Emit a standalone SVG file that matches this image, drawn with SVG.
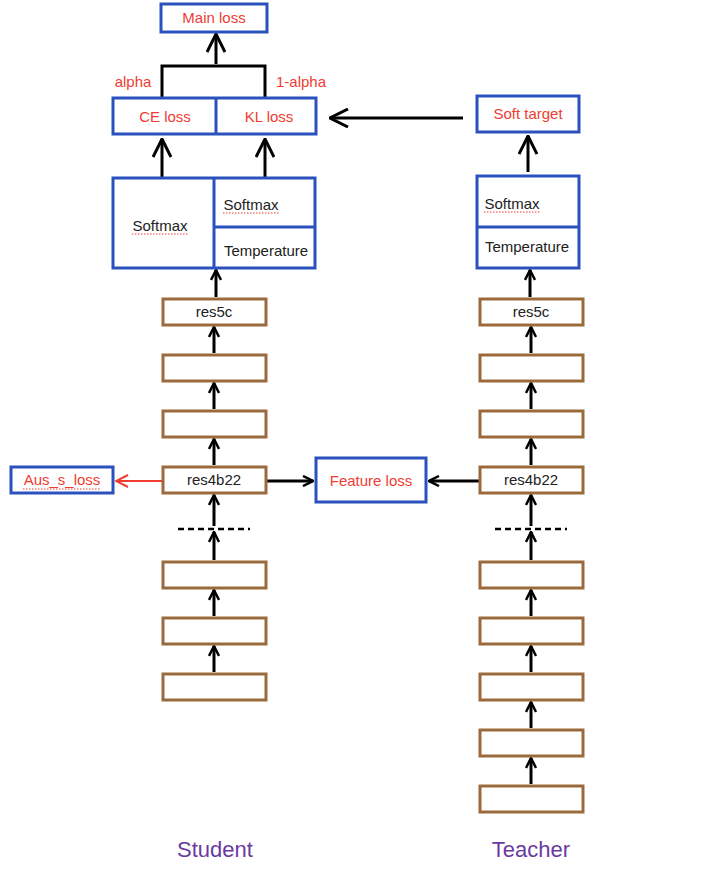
<svg xmlns="http://www.w3.org/2000/svg" width="709" height="875" viewBox="0 0 709 875">
<style>
.b{fill:#fff;stroke:#2a52be;stroke-width:3}
.r{fill:#fff;stroke:#9b6a3c;stroke-width:3}
.l{stroke:#000;stroke-width:3;fill:none}
.t{font-family:"Liberation Sans",Arial,sans-serif;font-size:15px;text-anchor:middle;fill:#222}
.red{fill:#f03c32}
.u{stroke:#f03c32;stroke-width:1;stroke-dasharray:1.5 1.5}
.lab{font-family:"Liberation Sans",Arial,sans-serif;font-size:22px;text-anchor:middle;fill:#6a3aa0}
</style>
<defs>
<marker id="a" viewBox="0 0 12 12" refX="11" refY="6" markerWidth="12" markerHeight="12" markerUnits="userSpaceOnUse" orient="auto"><path d="M1,1 L11,6 L1,11" fill="none" stroke="#000" stroke-width="2.5"/></marker>
<marker id="A" viewBox="0 0 20 20" refX="19" refY="10" markerWidth="20" markerHeight="20" markerUnits="userSpaceOnUse" orient="auto"><path d="M1,1 L19,10 L1,19" fill="none" stroke="#000" stroke-width="3"/></marker>
<marker id="ar" viewBox="0 0 14 14" refX="13" refY="7" markerWidth="14" markerHeight="14" markerUnits="userSpaceOnUse" orient="auto"><path d="M1,1 L13,7 L1,13" fill="none" stroke="#f03c32" stroke-width="2"/></marker>
</defs>
<g id="connectors">
<path class="l" d="M216,64 V34" marker-end="url(#A)"/>
<path class="l" d="M162,98 V66 H265 V98"/>
<path class="l" d="M162,177 V139" marker-end="url(#A)"/>
<path class="l" d="M265,177 V139" marker-end="url(#A)"/>
<path class="l" d="M463,118 H330" marker-end="url(#A)"/>
<path class="l" d="M528,172 V136" marker-end="url(#A)"/>
<path class="l" d="M216,297 V270" marker-end="url(#a)"/>
<path class="l" d="M530,297 V270" marker-end="url(#a)"/>
<g class="l">
<path d="M214,353 V327" marker-end="url(#a)"/><path d="M214,409 V383" marker-end="url(#a)"/><path d="M214,465 V439" marker-end="url(#a)"/>
<path d="M214,526 V495" marker-end="url(#a)"/><path d="M214,560 V532" marker-end="url(#a)"/><path d="M214,616 V590" marker-end="url(#a)"/><path d="M214,672 V646" marker-end="url(#a)"/>
<path d="M531,353 V327" marker-end="url(#a)"/><path d="M531,409 V383" marker-end="url(#a)"/><path d="M531,465 V439" marker-end="url(#a)"/>
<path d="M531,526 V495" marker-end="url(#a)"/><path d="M531,560 V532" marker-end="url(#a)"/><path d="M531,616 V590" marker-end="url(#a)"/><path d="M531,672 V646" marker-end="url(#a)"/><path d="M531,728 V702" marker-end="url(#a)"/><path d="M531,784 V758" marker-end="url(#a)"/>
</g>
<path d="M178,529 H250 M495,529 H567" stroke="#000" stroke-width="2.5" stroke-dasharray="6 4"/>
<path class="l" d="M266,481 H313" marker-end="url(#a)"/>
<path class="l" d="M480,481 H429" marker-end="url(#a)"/>
<path d="M163,481 H116" stroke="#f03c32" stroke-width="2" fill="none" marker-end="url(#ar)"/>
</g>
<g id="main-loss"><rect class="b" x="161" y="4" width="106" height="28"/><text class="t red" x="214" y="23">Main loss</text></g>
<text class="t red" x="133" y="87">alpha</text>
<text class="t red" x="301" y="87">1-alpha</text>
<g id="ce-kl"><rect class="b" x="113" y="98" width="203" height="36"/><path d="M216,98 V134" stroke="#2a52be" stroke-width="3"/><text class="t red" x="165" y="122">CE loss</text><text class="t red" x="269" y="122">KL loss</text></g>
<g id="soft-target"><rect class="b" x="477" y="96" width="102" height="36"/><text class="t red" x="528" y="119">Soft target</text></g>
<g id="student-softmax"><rect class="b" x="113" y="178" width="202" height="90"/><path d="M214,178 V268 M214,227 H315" stroke="#2a52be" stroke-width="3"/>
<text class="t" x="160" y="231">Softmax</text><path class="u" d="M132,234 H188"/>
<text class="t" x="251" y="210">Softmax</text><path class="u" d="M223,213 H280"/>
<text class="t" x="266" y="256">Temperature</text></g>
<g id="teacher-softmax"><rect class="b" x="477" y="176" width="102" height="92"/><path d="M477,227 H579" stroke="#2a52be" stroke-width="3"/>
<text class="t" x="512" y="209">Softmax</text><path class="u" d="M484,212 H541"/>
<text class="t" x="527" y="252">Temperature</text></g>
<g id="student-layers">
<rect class="r" x="163" y="299" width="103" height="26"/><text class="t" x="214" y="317">res5c</text>
<rect class="r" x="163" y="355" width="103" height="26"/>
<rect class="r" x="163" y="411" width="103" height="26"/>
<rect class="r" x="163" y="467" width="103" height="26"/><text class="t" x="214" y="485">res4b22</text>
<rect class="r" x="163" y="562" width="103" height="26"/>
<rect class="r" x="163" y="618" width="103" height="26"/>
<rect class="r" x="163" y="674" width="103" height="26"/>
</g>
<g id="teacher-layers">
<rect class="r" x="480" y="299" width="103" height="26"/><text class="t" x="531" y="317">res5c</text>
<rect class="r" x="480" y="355" width="103" height="26"/>
<rect class="r" x="480" y="411" width="103" height="26"/>
<rect class="r" x="480" y="467" width="103" height="26"/><text class="t" x="531" y="485">res4b22</text>
<rect class="r" x="480" y="562" width="103" height="26"/>
<rect class="r" x="480" y="618" width="103" height="26"/>
<rect class="r" x="480" y="674" width="103" height="26"/>
<rect class="r" x="480" y="730" width="103" height="26"/>
<rect class="r" x="480" y="786" width="103" height="26"/>
</g>
<g id="aus-loss"><rect class="b" x="11" y="467" width="102" height="26"/><text class="t red" x="62" y="485">Aus_s_loss</text><path class="u" d="M23,489 H101"/></g>
<g id="feature-loss"><rect class="b" x="316" y="458" width="110" height="44"/><text class="t red" x="371" y="486">Feature loss</text></g>
<text class="lab" x="215" y="857">Student</text>
<text class="lab" x="531" y="857">Teacher</text>
</svg>
